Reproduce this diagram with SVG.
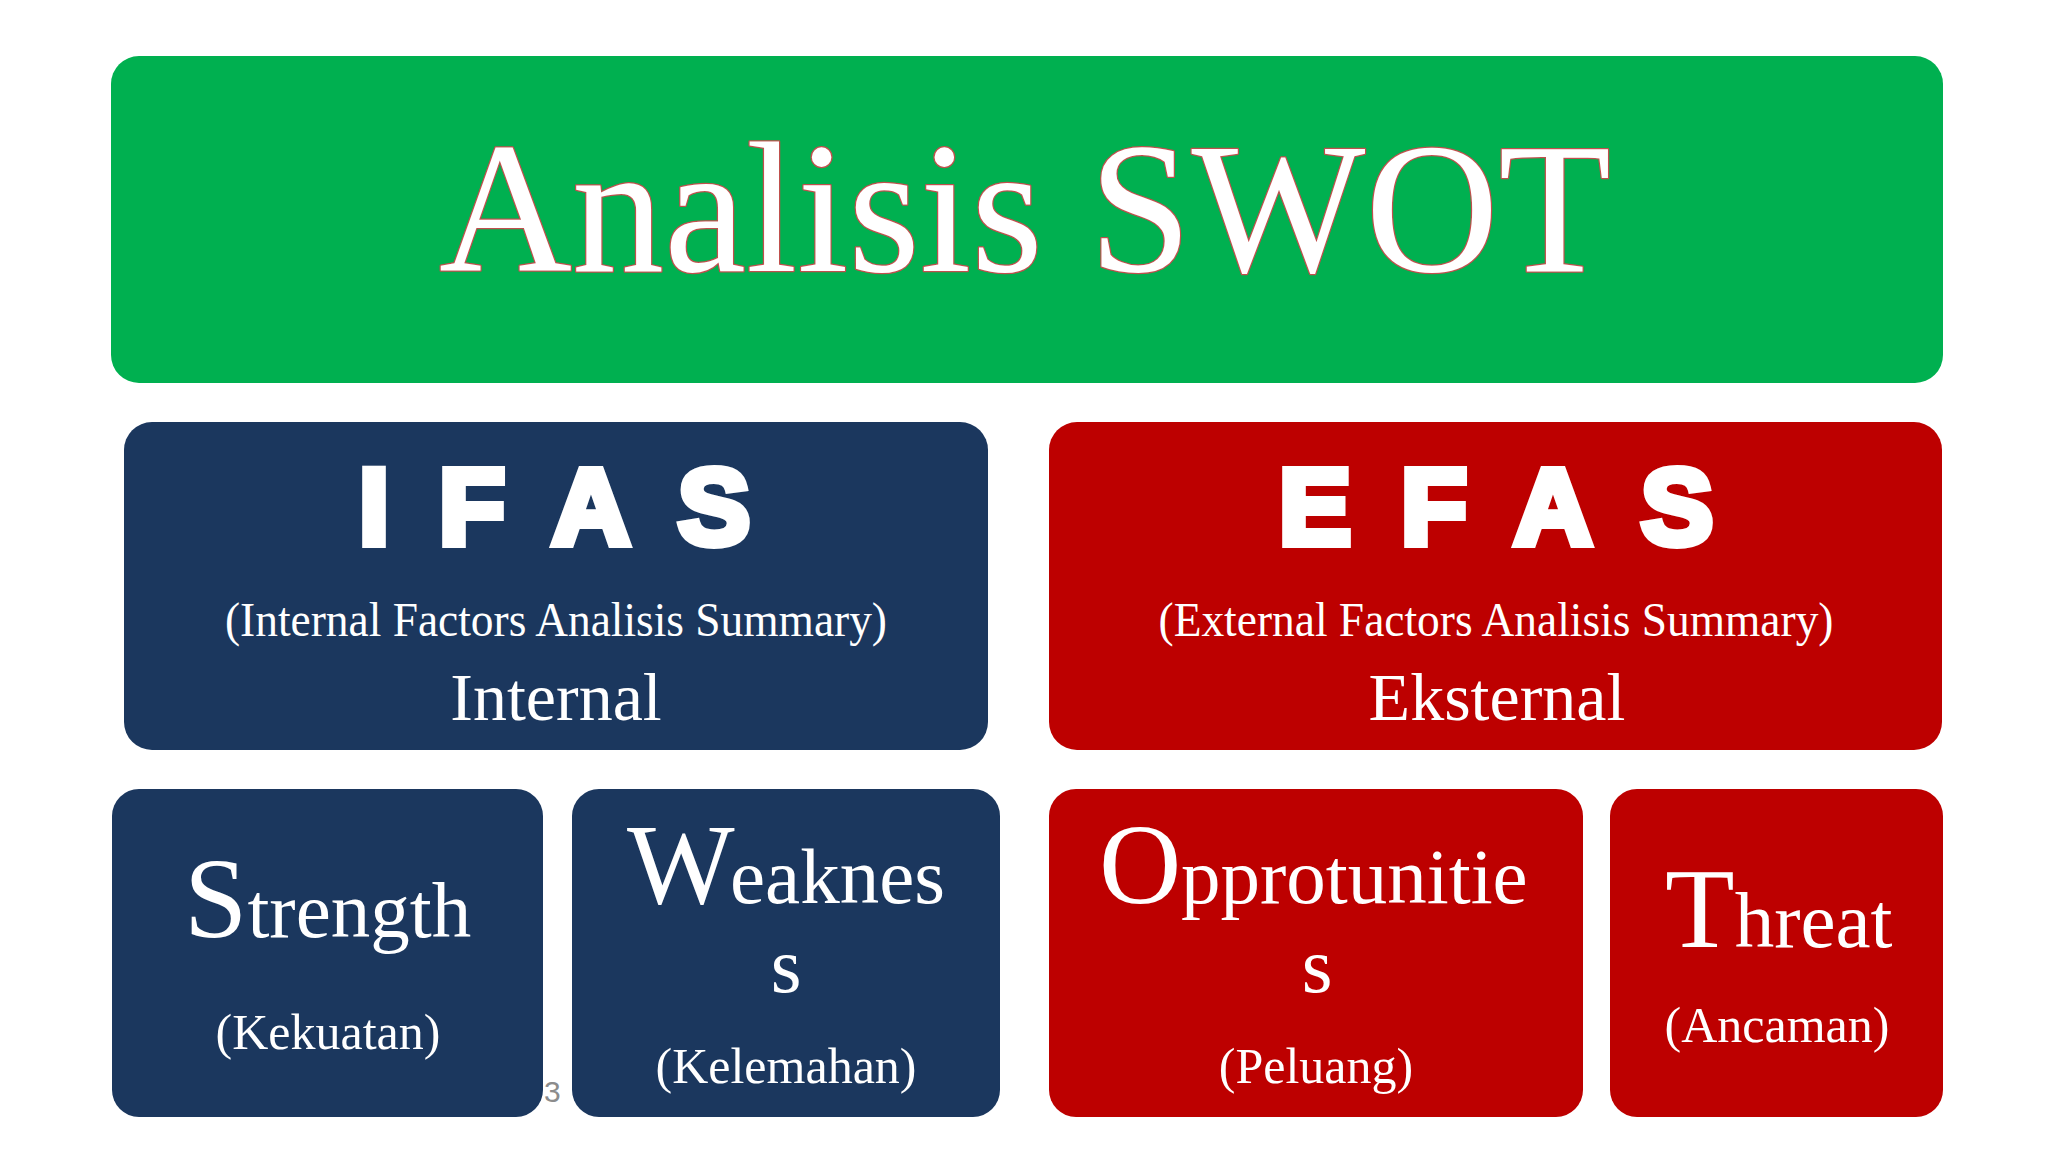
<svg xmlns="http://www.w3.org/2000/svg" width="2048" height="1152" viewBox="0 0 2048 1152">
<style>
.bg{fill:#ffffff}
.green{fill:#00b050}
.navy{fill:#1b375e}
.red{fill:#bd0000}
.serif{font-family:"Liberation Serif","Times New Roman",serif;fill:#ffffff}
.title{font-size:186px;stroke:#c0504d;stroke-width:2.5px;paint-order:stroke;stroke-linejoin:round}
.heavy{font-family:"Liberation Sans",Arial,sans-serif;font-weight:bold;font-size:108px;fill:#ffffff;stroke:#ffffff;stroke-width:8px;stroke-linejoin:miter}
.sub{font-size:48px}
.mid{font-size:68px}
.cap{font-size:114px}
.rest{font-size:79px}
.note{font-size:50px}
.pg{font-family:"Liberation Sans",Arial,sans-serif;font-size:30px;fill:#8c8c8c}
</style>
<rect class="bg" x="0" y="0" width="2048" height="1152"/>
<text class="pg" x="544" y="1102">3</text>

<g id="title">
<rect class="green" x="111" y="56" width="1832" height="327" rx="28"/>
<text class="serif title" x="1025" y="271" text-anchor="middle" textLength="1172" lengthAdjust="spacingAndGlyphs">Analisis SWOT</text>
</g>

<g id="ifas">
<rect class="navy" x="124" y="422" width="864" height="328" rx="28"/>
<text class="heavy" x="359 392 439 512 552 640 678" y="544">I F A S</text>
<text class="serif sub" x="556" y="636" text-anchor="middle" textLength="662" lengthAdjust="spacingAndGlyphs">(Internal Factors Analisis Summary)</text>
<text class="serif mid" x="556" y="720" text-anchor="middle">Internal</text>
</g>

<g id="efas">
<rect class="red" x="1049" y="422" width="893" height="328" rx="28"/>
<text class="heavy" x="1279 1350 1401 1470 1514 1600 1641" y="544">E F A S</text>
<text class="serif sub" x="1496" y="636" text-anchor="middle" textLength="675" lengthAdjust="spacingAndGlyphs">(External Factors Analisis Summary)</text>
<text class="serif mid" x="1497" y="720" text-anchor="middle">Eksternal</text>
</g>

<g id="strength">
<rect class="navy" x="112" y="789" width="431" height="328" rx="27"/>
<text class="serif" x="184" y="937"><tspan class="cap">S</tspan><tspan class="rest">trength</tspan></text>
<text class="serif note" x="328" y="1049" text-anchor="middle">(Kekuatan)</text>
</g>

<g id="weakness">
<rect class="navy" x="572" y="789" width="428" height="328" rx="27"/>
<text class="serif" x="627" y="903"><tspan class="cap">W</tspan><tspan class="rest" x="730">eaknes</tspan></text>
<text class="serif rest" x="786" y="992" text-anchor="middle">s</text>
<text class="serif note" x="786" y="1083" text-anchor="middle">(Kelemahan)</text>
</g>

<g id="opportunities">
<rect class="red" x="1049" y="789" width="534" height="328" rx="27"/>
<text class="serif" x="1099" y="903"><tspan class="cap">O</tspan><tspan class="rest" x="1181">pprotunitie</tspan></text>
<text class="serif rest" x="1317" y="992" text-anchor="middle">s</text>
<text class="serif note" x="1316" y="1083" text-anchor="middle">(Peluang)</text>
</g>

<g id="threat">
<rect class="red" x="1610" y="789" width="333" height="328" rx="27"/>
<text class="serif" x="1665" y="947"><tspan class="cap">T</tspan><tspan class="rest">hreat</tspan></text>
<text class="serif note" x="1777" y="1042" text-anchor="middle">(Ancaman)</text>
</g>

<g id="connectors"></g>
</svg>
